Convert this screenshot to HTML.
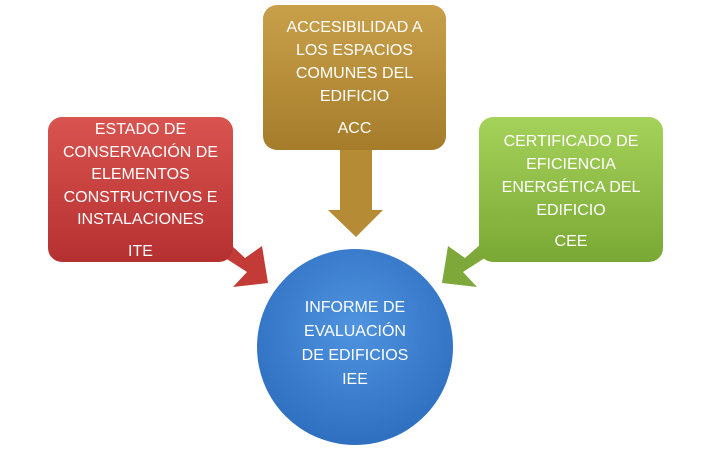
<!DOCTYPE html>
<html><head><meta charset="utf-8"><style>
body{margin:0;width:712px;height:451px;background:#fff;overflow:hidden;position:relative;font-family:"Liberation Sans",sans-serif}
.t{position:absolute;color:#fff;text-align:center;font-size:16px;line-height:23px}
</style></head><body>
<svg width="712" height="451" style="position:absolute;left:0;top:0">
<defs>
<linearGradient id="r" x1="0" y1="0" x2="0" y2="1"><stop offset="0" stop-color="#d9534f"/><stop offset="1" stop-color="#b53030"/></linearGradient>
<linearGradient id="g" x1="0" y1="0" x2="0" y2="1"><stop offset="0" stop-color="#c9a04a"/><stop offset="1" stop-color="#a57c2a"/></linearGradient>
<linearGradient id="gr" x1="0" y1="0" x2="0" y2="1"><stop offset="0" stop-color="#a5d25a"/><stop offset="1" stop-color="#7aa834"/></linearGradient>
<radialGradient id="b" cx="0.5" cy="0.4" r="0.6"><stop offset="0" stop-color="#4f94e0"/><stop offset="1" stop-color="#2f6fc0"/></radialGradient>
</defs>
<polygon points="215,230 245,258 262,246 268,283 233,287 247,272 205,245" fill="#c23b36"/>
<polygon points="497,230 465,258 448,246 442,283 477,287 463,272 505,245" fill="#7ea83a"/>
<polygon points="340,140 372,140 372,210 383,210 356,237 328,210 340,210" fill="#b68b35"/>
<rect x="48" y="117" width="185" height="145" rx="14" fill="url(#r)"/>
<rect x="263" y="5" width="183" height="145" rx="14" fill="url(#g)"/>
<rect x="479" y="117" width="184" height="145" rx="14" fill="url(#gr)"/>
<circle cx="355" cy="347" r="98" fill="url(#b)"/>
</svg>
<div class="t" style="left:48px;top:119px;width:185px;line-height:22.5px">ESTADO DE<br>CONSERVACIÓN DE<br>ELEMENTOS<br>CONSTRUCTIVOS E<br>INSTALACIONES<br><div style="margin-top:9px">ITE</div></div>
<div class="t" style="left:263px;top:16px;width:183px">ACCESIBILIDAD A<br>LOS ESPACIOS<br>COMUNES DEL<br>EDIFICIO<br><div style="margin-top:9px">ACC</div></div>
<div class="t" style="left:479px;top:130px;width:184px">CERTIFICADO DE<br>EFICIENCIA<br>ENERGÉTICA DEL<br>EDIFICIO<br><div style="margin-top:8px">CEE</div></div>
<div class="t" style="left:257px;top:296px;width:196px;line-height:24px">INFORME DE<br>EVALUACIÓN<br>DE EDIFICIOS<br>IEE</div>
</body></html>
